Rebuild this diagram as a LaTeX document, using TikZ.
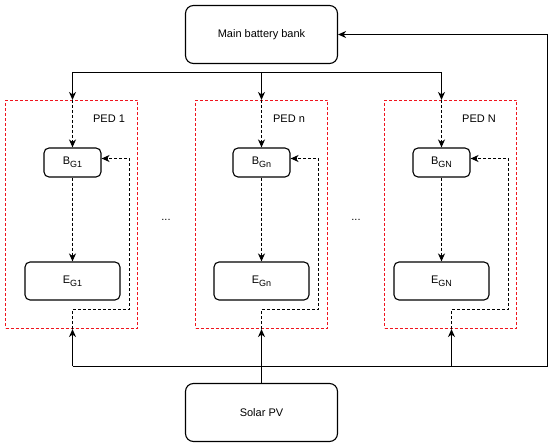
\documentclass[tikz,border=0pt]{standalone}
\usepackage{fontspec}
\setmainfont{Liberation Sans}
\usetikzlibrary{arrows.meta,calc}
\definecolor{pedred}{RGB}{240,20,30}
\newcommand{\subtxt}[1]{\raisebox{-2.6pt}{\fontsize{9}{9}\selectfont #1}}
\begin{document}
\begin{tikzpicture}[x=1pt,y=-1pt,
  box/.style={draw,rounded corners=8pt,line width=1.1pt,minimum width=152pt,minimum height=58pt,inner sep=0pt,font=\fontsize{11}{13}\selectfont},
  small/.style={draw,rounded corners=5pt,line width=1.1pt,inner sep=0pt,font=\fontsize{11}{13}\selectfont},
  ped/.style={draw=pedred,dash pattern=on 3pt off 2pt,line width=1.1pt,minimum width=132pt,minimum height=228pt,inner sep=0pt},
  lbl/.style={inner sep=0pt,font=\fontsize{11}{13}\selectfont},
  arr/.style={-{Stealth[length=8pt,width=7pt,inset=2.5pt]},line width=1.1pt},
  dsh/.style={arr,dash pattern=on 3pt off 2pt},
  fb/.style={dsh},
  ln/.style={line width=1.1pt}]
\useasboundingbox (0,0) rectangle (550,446);

% main and solar
\node[box] (main) at (261.5,34.5) {Main battery bank};
\node[box] (solar) at (261.5,412.5) {Solar PV};

% PED boxes
\node[ped] (P1) at (71.5,214.5) {};
\node[ped] (P2) at (261.5,214.5) {};
\node[ped] (P3) at (450.5,214.5) {};
\node[lbl] (L1) at (109,119) {PED 1};
\node[lbl] (L2) at (289,119) {PED n};
\node[lbl] (L3) at (479,119) {PED N};
\node[lbl] (D1) at (166,220) {...};
\node[lbl] (D2) at (356,220) {...};

% B and E nodes
\node[small,minimum width=57pt,minimum height=29pt] (B1) at (72.5,162.5) {B\subtxt{G1}};
\node[small,minimum width=57pt,minimum height=29pt] (B2) at (261.5,162.5) {B\subtxt{Gn}};
\node[small,minimum width=57pt,minimum height=29pt] (B3) at (441.5,162.5) {B\subtxt{GN}};
\node[small,minimum width=95pt,minimum height=38pt] (E1) at (72.5,281) {E\subtxt{G1}};
\node[small,minimum width=95pt,minimum height=38pt] (E2) at (261.5,281) {E\subtxt{Gn}};
\node[small,minimum width=95pt,minimum height=38pt] (E3) at (441.5,281) {E\subtxt{GN}};

% top bus
\coordinate (t1) at (72.5,72.5);
\coordinate (t2) at (261.5,72.5);
\coordinate (t3) at (441.5,72.5);
\draw[ln] (t1) -- (t3);
\draw[arr] (t1) -- (t1 |- P1.north);
\draw[arr] (t2) -- (t2 |- P2.north);
\draw[arr] (t3) -- (t3 |- P3.north);

% dashed inside PEDs
\draw[dsh] (t1 |- P1.north) -- (B1.north);
\draw[dsh] (t2 |- P2.north) -- (B2.north);
\draw[dsh] (t3 |- P3.north) -- (B3.north);
\draw[dsh] (B1.south) -- (E1.north);
\draw[dsh] (B2.south) -- (E2.north);
\draw[dsh] (B3.south) -- (E3.north);

% bottom bus
\coordinate (b1) at (72.5,366.5);
\coordinate (b2) at (261.5,366.5);
\coordinate (b3) at (451.5,366.5);
\coordinate (br) at (547.5,366.5);
\coordinate (tr) at (547.5,34.5);
\draw[ln] (b1) -- (br);
\draw[arr] (b1) -- (b1 |- P1.south);
\draw[arr] (solar.north) -- (P2.south);
\draw[arr] (b3) -- (b3 |- P3.south);
\draw[arr] (br) -- (tr) -- (main.east);

% feedback dashed
\draw[fb] (b1 |- P1.south) -- (72.5,309.5) -- (129.5,309.5) -- (129.5,158.5) -- (B1.east |- 0,158.5);
\draw[fb] (b2 |- P2.south) -- (261.5,309.5) -- (318.5,309.5) -- (318.5,158.5) -- (B2.east |- 0,158.5);
\draw[fb] (b3 |- P3.south) -- (451.5,309.5) -- (508.5,309.5) -- (508.5,158.5) -- (B3.east |- 0,158.5);
\end{tikzpicture}
\end{document}
